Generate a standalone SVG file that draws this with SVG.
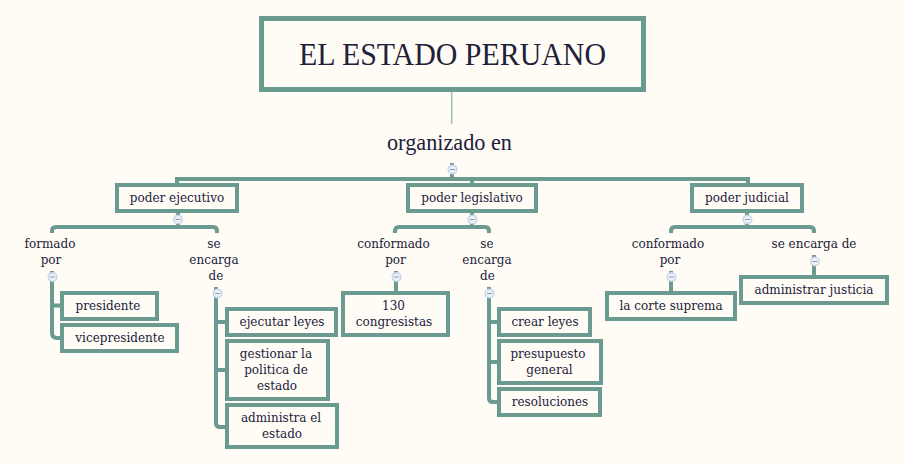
<svg xmlns="http://www.w3.org/2000/svg" width="905" height="465" viewBox="0 0 905 465">
<style>
text{font-family:"DejaVu Serif","Liberation Serif",serif;font-size:12px;fill:#20203a;text-anchor:middle}
.box{fill:#fffcf5;stroke:#6b9a90;stroke-width:4}
.con{fill:none;stroke:#6b9a90;stroke-width:4}
.tg{fill:#eef1f8;stroke:#c3d3ea;stroke-width:1.4}
.tm{stroke:#8a9ab0;stroke-width:1}
</style>
<defs>
<g id="toggle"><circle class="tg" r="4.300"/><line class="tm" x1="-2.500" x2="2.500" y1="0" y2="0"/></g>
</defs>
<rect width="905" height="465" fill="#fffcf5"/>
<g id="connectors">
<line x1="451.7" y1="92" x2="451.7" y2="124" stroke="#9dbcb5" stroke-width="1.5"/>
<path class="con" d="M452 163V179M177 183V179H748V183M472 179V183"/>
<path class="con" d="M178 213V227M52 233V231Q52 227 56 227H213Q217 227 217 231V233"/>
<path class="con" d="M52 271V333Q52 338 57 338H62M52 305.500H62"/>
<path class="con" d="M216 287V423Q216 427 220 427H227M216 322H227M216 370H227"/>
<path class="con" d="M472 213V227M395 233V231Q395 227 399 227H485Q489 227 489 231V233"/>
<path class="con" d="M396 271V291"/>
<path class="con" d="M489 287V398Q489 402 493 402H499M489 322H499M489 362H499"/>
<path class="con" d="M747 213V227M671 233V231Q671 227 675 227H810Q814 227 814 231V233"/>
<path class="con" d="M671 271V291M814 255V275"/>
</g>
<g id="n-root"><rect x="261.500" y="18.500" width="382" height="71" fill="#fffcf5" stroke="#6b9a90" stroke-width="5"/><text x="452.500" y="65" style="font-family:'Liberation Serif',serif;font-size:31px" textLength="307" lengthAdjust="spacingAndGlyphs">EL ESTADO PERUANO</text></g>
<g id="n-organizado"><text x="449.500" y="150" style="font-family:'Liberation Serif',serif;font-size:22.500px" textLength="125" lengthAdjust="spacingAndGlyphs">organizado en</text><use href="#toggle" x="452.500" y="169.500"/></g>
<g id="n-ejecutivo"><rect class="box" x="117" y="185" width="120" height="26"/><text x="177" y="201.500">poder ejecutivo</text><use href="#toggle" x="178" y="219.500"/></g>
<g id="n-legislativo"><rect class="box" x="408" y="185" width="128" height="26"/><text x="472" y="201.500">poder legislativo</text><use href="#toggle" x="472.500" y="219.500"/></g>
<g id="n-judicial"><rect class="box" x="692" y="185" width="110" height="26"/><text x="747" y="201.500">poder judicial</text><use href="#toggle" x="747.500" y="219.500"/></g>
<g id="n-formado"><text x="50" y="247.500">formado</text><text x="51" y="263.500">por</text><use href="#toggle" x="52.500" y="277"/></g>
<g id="n-encarga1"><text x="214" y="247.500">se</text><text x="214" y="263.500">encarga</text><text x="216" y="279.500">de</text><use href="#toggle" x="217.500" y="293.500"/></g>
<g id="n-presidente"><rect class="box" x="62" y="293" width="95" height="26"/><text x="108" y="309.500">presidente</text></g>
<g id="n-vice"><rect class="box" x="62" y="325" width="115" height="26"/><text x="120" y="341.500">vicepresidente</text></g>
<g id="n-ejecutar"><rect class="box" x="227" y="309" width="109" height="26"/><text x="282" y="325.500">ejecutar leyes</text></g>
<g id="n-gestionar"><rect class="box" x="227" y="341" width="101" height="58"/><text x="276" y="357.500">gestionar la</text><text x="276" y="373.500">politica de</text><text x="277" y="389.500">estado</text></g>
<g id="n-administra"><rect class="box" x="227" y="405" width="110" height="42"/><text x="281" y="421.500">administra el</text><text x="282" y="437.500">estado</text></g>
<g id="n-conformado1"><text x="393.500" y="247.500">conformado</text><text x="395.500" y="263.500">por</text><use href="#toggle" x="396.500" y="277"/></g>
<g id="n-encarga2"><text x="487" y="247.500">se</text><text x="487" y="263.500">encarga</text><text x="487.500" y="279.500">de</text><use href="#toggle" x="489.500" y="293.500"/></g>
<g id="n-congresistas"><rect class="box" x="343" y="293" width="105" height="42"/><text x="393.500" y="309.500">130</text><text x="394" y="325.500">congresistas</text></g>
<g id="n-crear"><rect class="box" x="499" y="309" width="91" height="26"/><text x="545" y="325.500">crear leyes</text></g>
<g id="n-presupuesto"><rect class="box" x="499" y="341" width="102" height="42"/><text x="548" y="357.500">presupuesto</text><text x="549.500" y="373.500">general</text></g>
<g id="n-resoluciones"><rect class="box" x="499" y="389" width="101" height="26"/><text x="550" y="405.500">resoluciones</text></g>
<g id="n-conformado2"><text x="668" y="247.500">conformado</text><text x="670" y="263.500">por</text><use href="#toggle" x="671.500" y="277"/></g>
<g id="n-encarga3"><text x="814" y="247.500">se encarga de</text><use href="#toggle" x="815" y="261.500"/></g>
<g id="n-corte"><rect class="box" x="607" y="293" width="128" height="26"/><text x="671" y="309.500">la corte suprema</text></g>
<g id="n-justicia"><rect class="box" x="741" y="277" width="146" height="26"/><text x="814" y="293.500">administrar justicia</text></g>
</svg>
